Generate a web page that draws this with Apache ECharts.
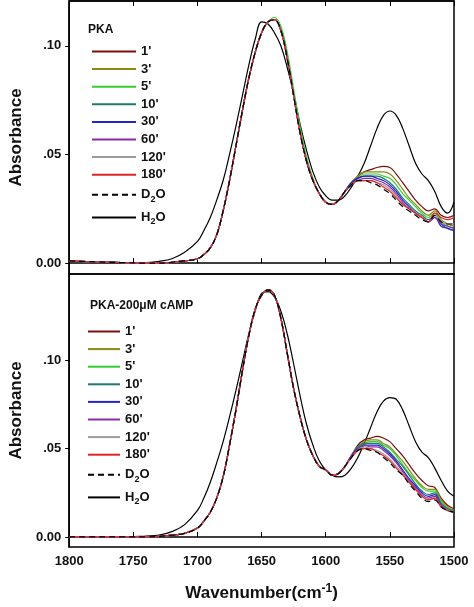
<!DOCTYPE html>
<html><head><meta charset="utf-8">
<script src="https://cdn.jsdelivr.net/npm/echarts@6/dist/echarts.min.js"></script>
<style>html,body{margin:0;padding:0;background:#fff}#c{width:474px;height:607px}</style>
</head><body><div id="c"></div>
<script>
const wavenumbers=[1800,1780,1760,1740,1730,1720,1710,1700,1695,1690,1685,1680,1675,1670,1665,1660,1655,1650,1645,1640,1635,1630,1625,1620,1615,1610,1605,
1600,1595,1590,1585,1580,1575,1570,1565,1560,1555,1550,1545,1540,1535,1530,1525,1520,1515,1510,1505,1500];
const seriesNames=["1'","3'","5'","10'","30'","60'","120'","180'","D2O","H2O"];
const seriesColors=['#7a0f0f','#8a8a10','#33cc33','#1f7a70','#2424c8','#8a2aa8','#9a9a9a','#e02424','#000','#000'];
// top panel (PKA): amide I region shared by protein traces
const topLeft=[.001,.0006,.0003,0,0,.0004,.001,.002,.004,.007,.013,.024,.038,.054,.070,.085,.097,.106,.111,.112,.107,.094,.077,.060,.047,.038,.032];
const topLeft5=[.001,.0006,.0003,0,0,.0004,.001,.002,.004,.007,.013,.024,.038,.054,.070,.085,.097,.106,.111,.113,.109,.097,.080,.063,.049,.039,.032];
const top1=[.028,.027,.029,.033,.037,.040,.042,.043,.044,.0445,.044,.041,.037,.033,.029,.026,.024,.025,.022,.021,.022];
const top3=[.028,.027,.029,.033,.037,.040,.042,.042,.042,.042,.041,.038,.034,.030,.027,.024,.022,.024,.020,.018,.017];
const top5=[.028,.027,.029,.033,.037,.039,.041,.041,.041,.040,.039,.036,.032,.029,.026,.023,.021,.023,.019,.017,.016];
const top10=[.028,.027,.029,.033,.037,.039,.040,.040,.040,.039,.037,.034,.030,.027,.024,.022,.020,.022,.018,.016,.015];
const top30=[.028,.027,.029,.033,.037,.039,.040,.040,.039,.038,.036,.033,.029,.026,.023,.021,.019,.021,.017,.016,.015];
const top60=[.028,.027,.029,.033,.036,.038,.039,.039,.038,.037,.035,.032,.028,.025,.023,.021,.019,.021,.018,.017,.016];
const top120=[.028,.027,.029,.033,.036,.038,.038,.038,.037,.036,.034,.031,.027,.025,.023,.021,.019,.022,.019,.018,.018];
const top180=[.028,.027,.029,.033,.036,.038,.038,.038,.037,.035,.033,.030,.027,.025,.023,.021,.019,.023,.021,.020,.021];
const topD2O=[.028,.027,.029,.033,.036,.038,.038,.037,.036,.034,.032,.029,.026,.024,.022,.020,.019,.022,.019,.018,.018];
const topH2O=[.001,.0006,.0003,.0002,.0008,.002,.005,.010,.015,.021,.029,.038,.050,.063,.077,.091,.103,.111,.110,.106,.100,.090,.078,.064,.052,.042,.035,
.031,.029,.029,.031,.035,.040,.046,.054,.062,.068,.070,.068,.062,.054,.046,.041,.038,.033,.026,.023,.028];
// bottom panel (PKA-200µM cAMP)
const botLeft=[0,0,0,0,.0003,.001,.002,.005,.009,.014,.022,.034,.052,.072,.094,.114,.129,.137,.140,.137,.124,.104,.084,.068,.055,.046,.040];
const bot1=[.038,.035,.036,.040,.046,.052,.055,.056,.057,.056,.054,.050,.046,.041,.036,.032,.029,.028,.022,.018,.016];
const bot3=[.038,.035,.036,.040,.046,.051,.054,.055,.055,.053,.051,.047,.043,.038,.033,.029,.027,.027,.021,.017,.015];
const bot5=[.038,.035,.036,.040,.046,.051,.053,.054,.054,.052,.050,.046,.041,.036,.032,.028,.026,.026,.020,.016,.015];
const bot10=[.038,.035,.036,.040,.046,.051,.053,.053,.053,.051,.048,.044,.040,.035,.030,.026,.024,.025,.019,.016,.015];
const bot30=[.038,.035,.036,.040,.046,.050,.052,.052,.052,.050,.047,.043,.038,.033,.029,.025,.023,.024,.018,.015,.014];
const bot60=[.038,.035,.036,.040,.046,.050,.052,.051,.051,.049,.046,.042,.037,.032,.028,.024,.022,.023,.018,.015,.014];
const bot120=[.038,.035,.036,.040,.045,.049,.051,.050,.049,.047,.044,.040,.036,.031,.027,.023,.021,.022,.017,.015,.014];
const bot180=[.038,.035,.036,.040,.045,.049,.050,.050,.048,.046,.043,.039,.035,.031,.027,.023,.021,.022,.017,.015,.014];
const botD2O=[.038,.035,.036,.040,.045,.049,.050,.049,.048,.045,.042,.038,.035,.030,.026,.022,.020,.021,.017,.015,.014];
const botH2O=[0,0,0,.0005,.001,.003,.007,.015,.022,.031,.042,.054,.068,.083,.099,.115,.128,.138,.139,.136,.128,.115,.098,.080,.064,.052,.043,
.038,.035,.034,.035,.039,.045,.053,.062,.071,.077,.079,.078,.072,.063,.054,.048,.045,.039,.032,.026,.023];
const yTickValues=[0,0.05,0.1];
const xTickValues=[1800,1750,1700,1650,1600,1550,1500];

const topData=[topLeft.concat(top1),topLeft.concat(top3),topLeft5.concat(top5),topLeft.concat(top10),topLeft.concat(top30),topLeft.concat(top60),topLeft.concat(top120),topLeft.concat(top180),topLeft.concat(topD2O),topH2O];
const botData=[botLeft.concat(bot1),botLeft.concat(bot3),botLeft.concat(bot5),botLeft.concat(bot10),botLeft.concat(bot30),botLeft.concat(bot60),botLeft.concat(bot120),botLeft.concat(bot180),botLeft.concat(botD2O),botH2O];

const font='"Liberation Sans", Arial, sans-serif';
const series=[];
[topData,botData].forEach((set,p)=>{
  set.forEach((vals,i)=>{
    series.push({type:'line',name:seriesNames[i],xAxisIndex:p===0?0:2,yAxisIndex:p,smooth:0.4,symbol:'none',z:i===9?1:2,
      data:wavenumbers.map((w,k)=>[w,vals[k]]),
      lineStyle:{color:seriesColors[i],width:1.2,type:i===8?[6,4]:'solid'},itemStyle:{color:seriesColors[i]}});
  });
});
const fmtY=v=>v===0?'0.00':(v===0.05?'.05':'.10');
const legendFmt=n=>n==='D2O'?'{a|D}{s|2}{a|O}':(n==='H2O'?'{a|H}{s|2}{a|O}':'{a|'+n+'}');
const rich={a:{fontSize:13,lineHeight:12,fontWeight:'bold',fontFamily:font,color:'#111'},s:{fontSize:9,lineHeight:12,fontWeight:'bold',fontFamily:font,color:'#111',padding:[9,0,0,0]}};
function xAx(grid,show,pos){return {type:'value',gridIndex:grid,inverse:true,min:1500,max:1800,position:pos,
  axisLine:{show:true,lineStyle:{color:'#000',width:1.5}},
  axisTick:{show:true,inside:true,length:5,customValues:xTickValues,lineStyle:{color:'#000'}},
  axisLabel:{show:show,customValues:xTickValues,formatter:v=>String(v),fontSize:13,fontWeight:'bold',fontFamily:font,color:'#111',margin:8},
  splitLine:{show:false},
  name:show?'{a|Wavenumber(cm}{b|-1}{a|)}':'',nameLocation:'middle',nameGap:36,
  nameTextStyle:{rich:{a:{fontSize:17,fontWeight:'bold',fontFamily:font,color:'#111'},b:{fontSize:12,fontWeight:'bold',fontFamily:font,color:'#111',padding:[0,0,9,0]}}}};}
function yAx(grid,min,max){return {type:'value',gridIndex:grid,min:min,max:max,
  axisLine:{show:true,lineStyle:{color:'#000',width:1.5}},
  axisTick:{show:true,inside:false,length:4,customValues:yTickValues,lineStyle:{color:'#000'}},
  axisLabel:{customValues:yTickValues,formatter:fmtY,fontSize:13,fontWeight:'bold',fontFamily:font,color:'#111',margin:8},
  splitLine:{show:false},name:'Absorbance',nameLocation:'middle',nameGap:42,
  nameTextStyle:{fontSize:17,fontWeight:'bold',fontFamily:font,color:'#111'}};}
const leg=(top,left,w)=>({orient:'vertical',top:top,left:left,itemWidth:w,itemHeight:7,itemGap:4.6,
  itemStyle:{opacity:0},
  data:seriesNames.map(n=>({name:n})),formatter:legendFmt,textStyle:{rich:rich},selectedMode:false});
const chart=echarts.init(document.getElementById('c'),null,{renderer:'canvas'});
chart.setOption({
  animation:false,
  grid:[{left:64,right:20,top:1,height:273,show:true,borderColor:'#000',borderWidth:1.5},
        {left:64,right:20,top:274,height:273,show:true,borderColor:'#000',borderWidth:1.5}],
  xAxis:[xAx(0,false,'bottom'),xAx(0,false,'top'),xAx(1,true,'bottom')],
  yAxis:[yAx(0,-0.005,0.1206),yAx(1,-0.0057,0.149)],
  legend:[leg(40,86,44),leg(320,82,32)],
  graphic:[
    {type:'text',left:88,top:24,style:{text:'PKA',font:'bold 12px '+font,fill:'#111'}},
    {type:'text',left:90,top:300,style:{text:'PKA-200μM cAMP',font:'bold 12px '+font,fill:'#111'}}
  ],
  series:series
});
</script></body></html>
